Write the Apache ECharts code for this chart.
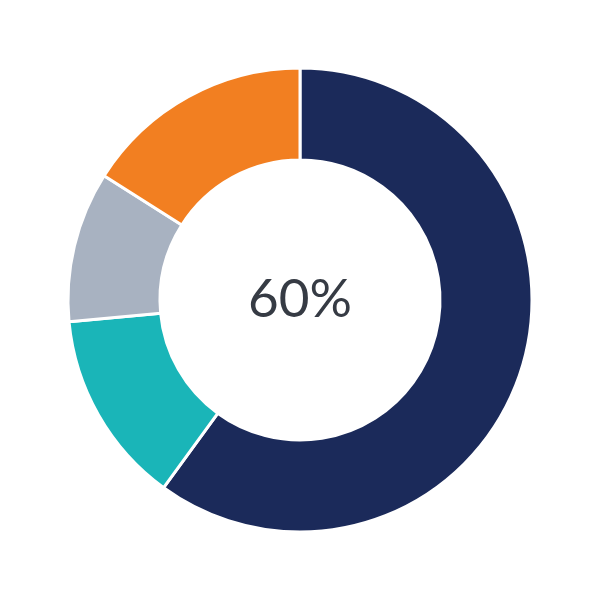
<!DOCTYPE html>
<html>
<head>
<meta charset="utf-8">
<script src="https://cdn.jsdelivr.net/npm/echarts@6/dist/echarts.min.js"></script>
<style>html,body{margin:0;padding:0;background:#fff;}#c{width:600px;height:600px;}</style>
</head>
<body>
<div id="c"></div>
<script>
const categories = ['A', 'B', 'C', 'D'];
const values = [60, 13.5, 10.5, 16];
const colors = ['#1b2a5a', '#1ab5b8', '#a8b2c1', '#f27f21'];
const centerLabel = '60%';

const chart = echarts.init(document.getElementById('c'));
chart.setOption({
  animation: false,
  backgroundColor: '#ffffff',
  color: colors,
  title: {
    text: centerLabel,
    left: 'center',
    top: 'middle',
    textStyle: { fontFamily: 'Lato', fontWeight: 'normal', fontSize: 53, color: '#363b44' }
  },
  series: [{
    type: 'pie',
    center: [300, 300],
    radius: [140, 232],
    startAngle: 90,
    clockwise: true,
    label: { show: false },
    labelLine: { show: false },
    itemStyle: { borderColor: '#ffffff', borderWidth: 3 },
    emphasis: { disabled: true },
    data: categories.map((c, i) => ({ name: c, value: values[i] }))
  }]
});
</script>
</body>
</html>
